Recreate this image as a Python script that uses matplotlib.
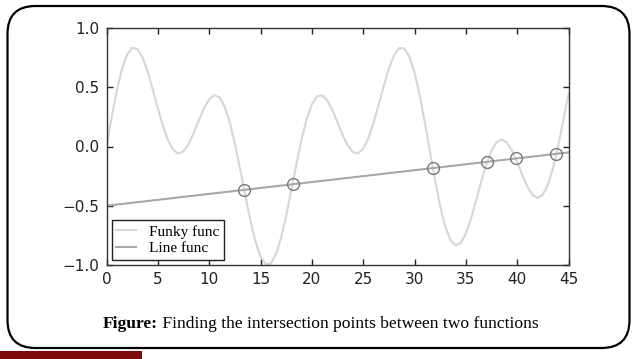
import numpy as np
import matplotlib
matplotlib.use("Agg")
import matplotlib.pyplot as plt
from matplotlib.patches import FancyBboxPatch, Rectangle
from matplotlib.transforms import IdentityTransform

# ---- data ----
x_step = 0.5
funky_y = [0.0, 0.2462, 0.4699, 0.6512, 0.7751, 0.8328, 0.8233, 0.7526, 0.6335, 0.4837,
           0.3234, 0.1731, 0.0511, -0.0289, -0.0596, -0.0404, 0.0221, 0.1153, 0.2221, 0.3231,
           0.3990, 0.4336, 0.4152, 0.3387, 0.2060, 0.0266, -0.1843, -0.4068, -0.6190, -0.7992,
           -0.9286, -0.9937, -0.9877, -0.9111, -0.7720, -0.5850, -0.3696, -0.1478, 0.0595, 0.2319,
           0.3556, 0.4224, 0.4313, 0.3889, 0.3073, 0.2041, 0.0982, 0.0090, -0.0470, -0.0580,
           -0.0188, 0.0690, 0.1969, 0.3502, 0.5102, 0.6563, 0.7683, 0.8294, 0.8279, 0.7587,
           0.6244, 0.4348, 0.2058, -0.0420, -0.2859, -0.5037, -0.6765, -0.7902, -0.8358, -0.8154,
           -0.7356, -0.6100, -0.4569, -0.2969, -0.1504, -0.0345, 0.0377, 0.0598, 0.0327, -0.0361,
           -0.1328, -0.2400, -0.3381, -0.4082, -0.4345, -0.4064, -0.3201, -0.1789, 0.0072, 0.2215,
           0.4438]
funky_x = np.arange(len(funky_y)) * x_step

line_x = [0, 45]
line_y = [-0.5, -0.05]

cross_x = [13.41, 18.12, 31.78, 37.08, 39.85, 43.83]
cross_y = [-0.366, -0.319, -0.182, -0.129, -0.101, -0.062]

x_ticks = [0, 5, 10, 15, 20, 25, 30, 35, 40, 45]
y_ticks = [-1.0, -0.5, 0.0, 0.5, 1.0]
legend_labels = ["Funky func", "Line func"]
caption_bold = "Figure:"
caption_rest = " Finding the intersection points between two functions"

# ---- figure ----
W, H = 638, 359
fig = plt.figure(figsize=(W / 100, H / 100), dpi=100)

# slide frame (pixel coordinates)
frame = FancyBboxPatch((7.5, H - 348), 622, 342,
                       boxstyle="round,pad=0,rounding_size=28",
                       transform=IdentityTransform(), facecolor="none",
                       edgecolor="black", linewidth=1.6, zorder=-1)
fig.patches.append(frame)
bar = Rectangle((0, 0), 142, 8.5, transform=IdentityTransform(),
                facecolor="#7d0a0a", edgecolor="none", zorder=-1)
fig.patches.append(bar)

ax = fig.add_axes([106.5 / W, 94 / H, 462 / W, 237 / H])
ax.plot(funky_x, funky_y, color="#d6d6d6", lw=1.5, label=legend_labels[0])
ax.plot(line_x, line_y, color="#a8a8a8", lw=1.5, label=legend_labels[1])
ax.plot(cross_x, cross_y, linestyle="none", marker="o", markersize=8.5,
        markerfacecolor="none", markeredgecolor="#777777", markeredgewidth=1.0)

ax.set_xlim(0, 45)
ax.set_ylim(-1.0, 1.0)
ax.set_xticks(x_ticks)
ax.set_yticks(y_ticks)
ax.set_xticklabels([str(t) for t in x_ticks])
ax.set_yticklabels(["\u22121.0", "\u22120.5", "0.0", "0.5", "1.0"])
ax.tick_params(direction="in", length=4, width=1, top=True, right=True,
               labelsize=11, colors="#222222", pad=5)
for s in ax.spines.values():
    s.set_color("#333333")
    s.set_linewidth(1.0)

leg = ax.legend(loc="lower left", prop={"family": "Liberation Serif", "size": 11},
                fancybox=False, framealpha=1, edgecolor="#222222",
                borderaxespad=0.35, handlelength=1.3, handletextpad=0.85,
                borderpad=0.3, labelspacing=0.18)
leg.get_frame().set_linewidth(1.0)

# caption
fig.canvas.draw()
r = fig.canvas.get_renderer()
cap_y = (H - 324) / H
t1 = fig.text(0, cap_y, caption_bold, fontsize=12.6, family="Liberation Serif",
              weight="bold", va="center", ha="left")
t2 = fig.text(0, cap_y, caption_rest, fontsize=12.6, family="Liberation Serif",
              va="center", ha="left")
w1 = t1.get_window_extent(r).width
w2 = t2.get_window_extent(r).width
start = 320.5 - (w1 + w2) / 2
t1.set_x(start / W)
t2.set_x((start + w1) / W)

fig.savefig("out.png", dpi=100)
